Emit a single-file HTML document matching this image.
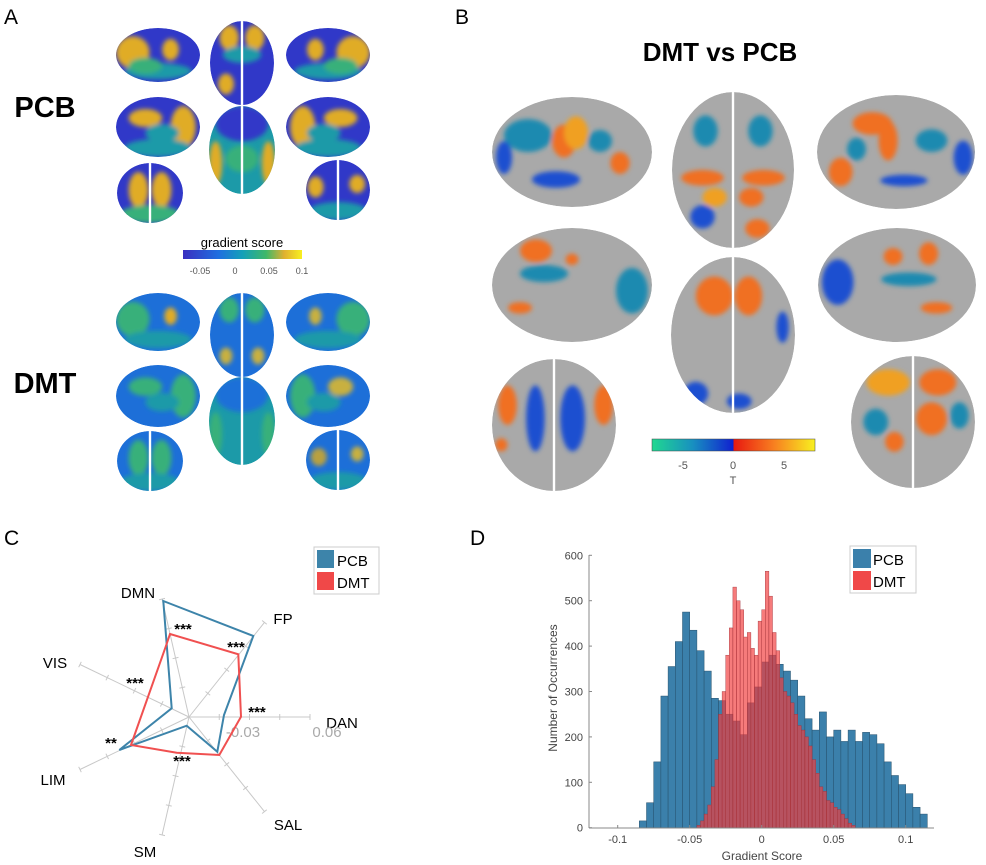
<!DOCTYPE html>
<html><head><meta charset="utf-8"><style>
html,body{margin:0;padding:0;background:#fff;}
svg{display:block;font-family:"Liberation Sans",Arial,sans-serif;}
</style></head><body>
<svg id="s" width="986" height="865" viewBox="0 0 986 865" xmlns="http://www.w3.org/2000/svg">
<defs>
<linearGradient id="parula" x1="0" x2="1" y1="0" y2="0">
<stop offset="0" stop-color="#3a2fc0"/><stop offset="0.3" stop-color="#1f6fe0"/><stop offset="0.5" stop-color="#14a0b8"/><stop offset="0.7" stop-color="#40b868"/><stop offset="0.85" stop-color="#e0b030"/><stop offset="1" stop-color="#f8f020"/>
</linearGradient>
<linearGradient id="tcb" x1="0" x2="1" y1="0" y2="0">
<stop offset="0" stop-color="#20d890"/><stop offset="0.25" stop-color="#1890c0"/><stop offset="0.5" stop-color="#1020d0"/><stop offset="0.5" stop-color="#e81810"/><stop offset="0.75" stop-color="#f88020"/><stop offset="1" stop-color="#f8f020"/>
</linearGradient>
<filter id="bl" x="-20%" y="-20%" width="140%" height="140%"><feGaussianBlur stdDeviation="2.5"/></filter>
<filter id="bl2" x="-20%" y="-20%" width="140%" height="140%"><feGaussianBlur stdDeviation="1.2"/></filter>
</defs>
<g id="brains"></g>

<!-- Panel labels -->
<text x="4" y="24" font-size="21">A</text>
<text x="455" y="24" font-size="21">B</text>
<text x="4" y="545" font-size="21">C</text>
<text x="470" y="545" font-size="21">D</text>

<text x="45" y="117" font-size="29" font-weight="bold" text-anchor="middle">PCB</text>
<text x="45" y="393" font-size="29" font-weight="bold" text-anchor="middle">DMT</text>

<!-- colorbar A -->
<text x="242" y="247" font-size="13" text-anchor="middle">gradient score</text>
<rect x="183" y="250" width="119" height="9" fill="url(#parula)"/>
<g font-size="9" fill="#555" text-anchor="middle"><text x="200" y="274">-0.05</text><text x="235" y="274">0</text><text x="269" y="274">0.05</text><text x="302" y="274">0.1</text></g>

<text x="720" y="61" font-size="26" font-weight="bold" text-anchor="middle">DMT vs PCB</text>
<rect x="652" y="439" width="163" height="12" fill="url(#tcb)" stroke="#444" stroke-width="0.5"/>
<g font-size="11" fill="#555" text-anchor="middle"><text x="683" y="469">-5</text><text x="733" y="469">0</text><text x="784" y="469">5</text><text x="733" y="484">T</text></g>

<!-- Panel C radar -->
<g id="radar"></g>

<!-- Panel D -->
<g id="hist"></g>
</svg>
<script>
var NS="http://www.w3.org/2000/svg";
function el(p,t,a,txt){var e=document.createElementNS(NS,t);for(var k in a)e.setAttribute(k,a[k]);if(txt!==undefined)e.textContent=txt;p.appendChild(e);return e;}
var br=document.getElementById('brains');
function brain(cx,cy,rx,ry,base,blobs,split){
  var g=el(br,'g',{});
  var cid='c'+Math.round(cx)+'_'+Math.round(cy);
  var cp=el(g,'clipPath',{id:cid});el(cp,'ellipse',{cx:cx,cy:cy,rx:rx,ry:ry});
  var inner=el(g,'g',{'clip-path':'url(#'+cid+')'});
  el(inner,'ellipse',{cx:cx,cy:cy,rx:rx,ry:ry,fill:base});
  var bg=el(inner,'g',{filter:'url(#bl)'});
  blobs.forEach(function(b){el(bg,'ellipse',{cx:cx+b[0]*rx,cy:cy+b[1]*ry,rx:b[2]*rx,ry:b[3]*ry,fill:b[4]});});
  if(split)el(inner,'rect',{x:cx-1.2,y:cy-ry,width:2.4,height:ry*2,fill:'#fff'});
}
var Y='#e0ac28',B='#3038c8',T='#1c9aa8',G='#38b07a',L='#1d6fd8';
// PCB
brain(158,55,42,27,B,[[-0.6,-0.1,0.4,0.6,Y],[0.3,-0.2,0.2,0.4,Y],[0,0.6,0.8,0.3,T],[-0.3,0.4,0.4,0.3,G]]);
brain(242,63,32,42,B,[[-0.4,-0.6,0.3,0.3,Y],[0.4,-0.6,0.3,0.3,Y],[-0.5,0.5,0.25,0.25,Y],[0,-0.2,0.6,0.2,T]],1);
brain(328,55,42,27,B,[[0.6,-0.1,0.4,0.6,Y],[-0.3,-0.2,0.2,0.4,Y],[0,0.6,0.8,0.3,T],[0.3,0.4,0.4,0.3,G]]);
brain(158,127,42,30,B,[[-0.3,-0.3,0.4,0.3,Y],[0.6,0,0.3,0.7,Y],[0.1,0.2,0.4,0.3,T],[0,0.7,0.8,0.3,T]]);
brain(242,150,33,44,T,[[0,-0.6,0.8,0.4,B],[-0.8,0.3,0.2,0.5,Y],[0.8,0.3,0.2,0.5,Y],[0,0.2,0.5,0.3,G]],1);
brain(328,127,42,30,B,[[0.3,-0.3,0.4,0.3,Y],[-0.6,0,0.3,0.7,Y],[-0.1,0.2,0.4,0.3,T],[0,0.7,0.8,0.3,T]]);
brain(150,193,33,30,B,[[-0.35,-0.1,0.3,0.6,Y],[0.35,-0.1,0.3,0.6,Y],[0,0.7,0.9,0.3,G]],1);
brain(338,190,32,30,B,[[-0.7,-0.1,0.25,0.35,Y],[0.6,-0.2,0.25,0.3,Y],[0,0.7,0.9,0.3,T]],1);
// DMT
brain(158,322,42,29,L,[[-0.6,-0.1,0.4,0.6,G],[0.3,-0.2,0.15,0.3,Y],[0,0.6,0.8,0.3,T]]);
brain(242,335,32,42,L,[[-0.4,-0.6,0.3,0.3,G],[0.4,-0.6,0.3,0.3,G],[-0.5,0.5,0.2,0.2,'#c8b040'],[0.5,0.5,0.2,0.2,'#c8b040']],1);
brain(328,322,42,29,L,[[0.6,-0.1,0.4,0.6,G],[-0.3,-0.2,0.15,0.3,'#c8b040'],[0,0.6,0.8,0.3,T]]);
brain(158,396,42,31,L,[[-0.3,-0.3,0.4,0.3,G],[0.6,0,0.3,0.7,G],[0.1,0.2,0.4,0.3,T]]);
brain(242,421,33,44,T,[[0,-0.6,0.8,0.4,L],[-0.8,0.3,0.2,0.5,G],[0.8,0.3,0.2,0.5,G]],1);
brain(328,396,42,31,L,[[0.3,-0.3,0.3,0.3,'#c8b040'],[-0.6,0,0.3,0.7,G],[-0.1,0.2,0.4,0.3,T]]);
brain(150,461,33,30,L,[[-0.35,-0.1,0.3,0.6,G],[0.35,-0.1,0.3,0.6,G],[0,0.7,0.9,0.3,T]],1);
brain(338,460,32,30,L,[[-0.6,-0.1,0.25,0.3,'#b8a040'],[0.6,-0.2,0.2,0.25,'#c8b040'],[0,0.7,0.9,0.3,T]],1);
// Panel B
var GR='#a9a9a9',BL='#1a50d0',TB='#1a8ab0',OR='#f07020',YO='#f0a020';
brain(572,152,80,55,GR,[[-0.55,-0.3,0.3,0.3,TB],[0.35,-0.2,0.15,0.2,TB],[-0.1,-0.2,0.15,0.3,OR],[0.05,-0.35,0.15,0.3,YO],[0.6,0.2,0.12,0.2,OR],[-0.2,0.5,0.3,0.15,BL],[-0.85,0.1,0.1,0.3,BL]]);
brain(733,170,61,78,GR,[[-0.45,-0.5,0.2,0.2,TB],[0.45,-0.5,0.2,0.2,TB],[-0.5,0.1,0.35,0.1,OR],[0.5,0.1,0.35,0.1,OR],[-0.3,0.35,0.2,0.12,YO],[0.3,0.35,0.2,0.12,OR],[-0.5,0.6,0.2,0.15,BL],[0.4,0.75,0.2,0.12,OR]],1);
brain(896,152,79,57,GR,[[-0.3,-0.5,0.25,0.2,OR],[-0.1,-0.2,0.12,0.35,OR],[0.45,-0.2,0.2,0.2,TB],[0.85,0.1,0.12,0.3,BL],[-0.7,0.35,0.15,0.25,OR],[-0.5,-0.05,0.12,0.2,TB],[0.1,0.5,0.3,0.1,BL]]);
brain(572,285,80,57,GR,[[-0.45,-0.6,0.2,0.2,OR],[-0.35,-0.2,0.3,0.15,TB],[0.75,0.1,0.2,0.4,TB],[-0.65,0.4,0.15,0.1,OR],[0,-0.45,0.08,0.1,OR]]);
brain(733,335,62,78,GR,[[-0.3,-0.5,0.3,0.25,OR],[0.25,-0.5,0.22,0.25,OR],[-0.6,0.75,0.2,0.15,BL],[0.1,0.85,0.2,0.1,BL],[0.8,-0.1,0.1,0.2,BL]],1);
brain(897,285,79,57,GR,[[-0.75,-0.05,0.2,0.4,BL],[0.15,-0.1,0.35,0.12,TB],[-0.05,-0.5,0.12,0.15,OR],[0.4,-0.55,0.12,0.2,OR],[0.5,0.4,0.2,0.1,OR]]);
brain(554,425,62,66,GR,[[-0.3,-0.1,0.15,0.5,BL],[0.3,-0.1,0.2,0.5,BL],[-0.75,-0.3,0.15,0.3,OR],[0.8,-0.3,0.15,0.3,OR],[-0.85,0.3,0.1,0.1,OR]],1);
brain(913,422,62,66,GR,[[-0.4,-0.6,0.35,0.2,YO],[0.4,-0.6,0.3,0.2,OR],[0.3,-0.05,0.25,0.25,OR],[-0.6,0,0.2,0.2,TB],[0.75,-0.1,0.15,0.2,TB],[-0.3,0.3,0.15,0.15,OR]],1);

// Radar
var r=document.getElementById('radar');
var cx=189,cy=717,R=121;
var names=['DAN','FP','DMN','VIS','LIM','SM','SAL'];
var lab=[[342,728],[283,624],[138,598],[55,668],[53,785],[145,857],[288,830]];
for(var i=0;i<7;i++){var a=i*2*Math.PI/7;var ex=cx+R*Math.cos(a),ey=cy-R*Math.sin(a);
 el(r,'line',{x1:cx,y1:cy,x2:ex,y2:ey,stroke:'#c8c8c8','stroke-width':1});
 for(var k=1;k<=4;k++){var tx=cx+R*k/4*Math.cos(a),ty=cy-R*k/4*Math.sin(a);var px=-Math.sin(a)*3,py=-Math.cos(a)*3;
  el(r,'line',{x1:tx-px,y1:ty-py,x2:tx+px,y2:ty+py,stroke:'#c8c8c8','stroke-width':1});}
 el(r,'text',{x:lab[i][0],y:lab[i][1],'font-size':15,'text-anchor':'middle'},names[i]);}
el(r,'text',{x:243,y:737,'font-size':15,fill:'#aaa','text-anchor':'middle'},'-0.03');
el(r,'text',{x:327,y:737,'font-size':15,fill:'#aaa','text-anchor':'middle'},'0.06');
function pts(a){return a.map(function(p){return (p[0]/3).toFixed(1)+','+(p[1]/3+520).toFixed(1);}).join(' ');}
el(r,'polygon',{points:pts([[490,243],[760,348],[672,585],[652,695],[560,617],[358,690],[515,565]]),fill:'none',stroke:'#3d84aa','stroke-width':2});
el(r,'polygon',{points:pts([[510,342],[715,403],[723,590],[658,705],[530,698],[393,675],[497,380]]),fill:'none',stroke:'#f05050','stroke-width':2});
[[183,634,'***'],[236,652,'***'],[135,688,'***'],[257,717,'***'],[182,766,'***'],[111,748,'**']].forEach(function(s){
 el(r,'text',{x:s[0],y:s[1],'font-size':15,'font-weight':'bold','text-anchor':'middle'},s[2]);});
el(r,'rect',{x:314,y:547,width:65,height:47,fill:'#fff',stroke:'#ccc'});
el(r,'rect',{x:317,y:550,width:17,height:18,fill:'#3d84aa'});
el(r,'rect',{x:317,y:572,width:17,height:18,fill:'#f04848'});
el(r,'text',{x:337,y:566,'font-size':15},'PCB');
el(r,'text',{x:337,y:588,'font-size':15},'DMT');

// Histogram
var h=document.getElementById('hist');
var x0=761.7,sx=1440,y0=827.7,sy=0.454;
function X(v){return x0+v*sx;} function Yv(c){return y0-c*sy;}
var pcb=[15,55,145,290,355,410,475,435,390,345,285,280,250,235,205,275,310,365,380,360,345,325,290,240,215,255,200,215,190,215,190,210,205,185,145,115,95,75,45,30];
pcb.forEach(function(c,i){var v=-0.085+i*0.005;el(h,'rect',{x:X(v),y:Yv(c),width:0.005*sx,height:c*sy,fill:'#3b80ab',stroke:'#26506c','stroke-width':0.5});});
var dmt=[5,15,30,50,90,150,250,300,380,440,530,500,480,420,430,395,380,455,480,565,510,430,390,330,300,290,275,250,225,215,200,180,150,120,90,80,60,55,45,40,30,20,10,5];
dmt.forEach(function(c,i){var v=-0.045+i*0.0025;el(h,'rect',{x:X(v),y:Yv(c),width:0.0025*sx,height:c*sy,fill:'#f23c3c','fill-opacity':0.68,stroke:'#a03038','stroke-width':0.4});});
el(h,'line',{x1:589,y1:555,x2:589,y2:828,stroke:'#888'});
el(h,'line',{x1:589,y1:828,x2:934,y2:828,stroke:'#888'});
for(var c=0;c<=600;c+=100){el(h,'line',{x1:589,y1:Yv(c),x2:592,y2:Yv(c),stroke:'#888'});el(h,'text',{x:583,y:Yv(c)+4,'font-size':11,fill:'#444','text-anchor':'end'},c);}
[[-0.1,'-0.1'],[-0.05,'-0.05'],[0,'0'],[0.05,'0.05'],[0.1,'0.1']].forEach(function(t){el(h,'line',{x1:X(t[0]),y1:828,x2:X(t[0]),y2:825,stroke:'#888'});el(h,'text',{x:X(t[0]),y:843,'font-size':11,fill:'#444','text-anchor':'middle'},t[1]);});
el(h,'text',{x:762,y:860,'font-size':12,fill:'#444','text-anchor':'middle'},'Gradient Score');
el(h,'text',{x:557,y:688,'font-size':12,fill:'#444','text-anchor':'middle',transform:'rotate(-90 557 688)'},'Number of Occurrences');
el(h,'rect',{x:850,y:546,width:66,height:47,fill:'#fff',stroke:'#ccc'});
el(h,'rect',{x:853,y:549,width:18,height:19,fill:'#3b80ab'});
el(h,'rect',{x:853,y:571,width:18,height:19,fill:'#f04848'});
el(h,'text',{x:873,y:565,'font-size':15},'PCB');
el(h,'text',{x:873,y:587,'font-size':15},'DMT');
</script>
</body></html>
